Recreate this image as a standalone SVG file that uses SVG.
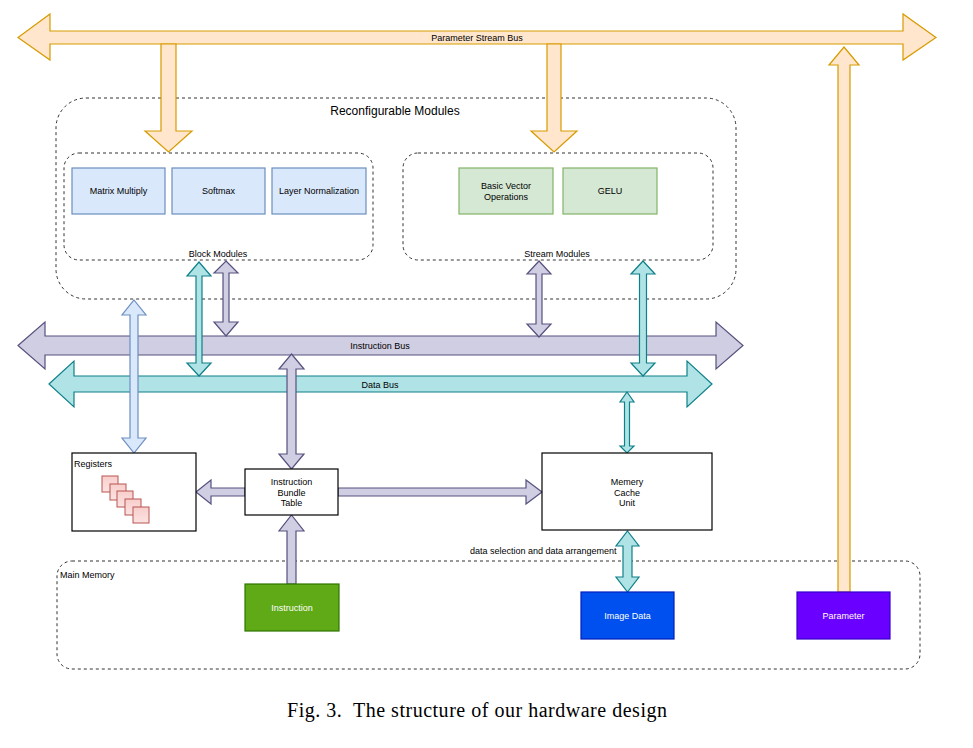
<svg xmlns="http://www.w3.org/2000/svg" width="973" height="748" viewBox="0 0 973 748">
<defs>
<style>
.t{font-family:"Liberation Sans",Arial,sans-serif;font-size:9px;fill:#000;}
.tw{font-family:"Liberation Sans",Arial,sans-serif;font-size:9px;fill:#fff;}
.dash{fill:none;stroke:#333;stroke-width:1;stroke-dasharray:3 3;}
.or{fill:#ffe6cc;stroke:#d79b00;stroke-width:1.2;}
.pu{fill:#d0cee2;stroke:#56517e;stroke-width:1.2;}
.te{fill:#b0e3e6;stroke:#0e8088;stroke-width:1.2;}
.bl{fill:#dae8fc;stroke:#6c8ebf;stroke-width:1.2;}
.gr{fill:#d5e8d4;stroke:#82b366;stroke-width:1.2;}
.box{fill:#fff;stroke:#000;stroke-width:1.2;}
.sq{fill:url(#pink);stroke:#b85450;stroke-width:1;}
</style>
<linearGradient id="pink" x1="0" y1="0" x2="0" y2="1">
<stop offset="0" stop-color="#f8cecc"/>
<stop offset="1" stop-color="#fbe3e2"/>
</linearGradient>
</defs>
<rect width="973" height="748" fill="#fff"/>

<!-- containers -->
<g id="reconfigurable-modules">
<rect class="dash" x="56" y="98" width="680" height="201" rx="30"/>
<text class="t" x="395" y="115" text-anchor="middle" style="font-size:12px">Reconfigurable Modules</text>
</g>
<g id="block-modules">
<rect class="dash" x="64" y="153" width="309" height="107" rx="15"/>
<text class="t" x="218" y="257" text-anchor="middle">Block Modules</text>
</g>
<g id="stream-modules">
<rect class="dash" x="403" y="153" width="310" height="107" rx="15"/>
<text class="t" x="557" y="257" text-anchor="middle">Stream Modules</text>
</g>
<g id="main-memory">
<rect class="dash" x="57" y="561" width="863" height="108" rx="15"/>
<text class="t" x="60" y="578">Main Memory</text>
</g>

<!-- modules -->
<g id="matrix-multiply">
<rect class="bl" x="72" y="168" width="93" height="46"/>
<text class="t" x="118.5" y="194" text-anchor="middle">Matrix Multiply</text>
</g>
<g id="softmax">
<rect class="bl" x="172" y="168" width="93" height="46"/>
<text class="t" x="218.5" y="194" text-anchor="middle">Softmax</text>
</g>
<g id="layer-normalization">
<rect class="bl" x="272" y="168" width="94" height="46"/>
<text class="t" x="319" y="194" text-anchor="middle">Layer Normalization</text>
</g>
<g id="basic-vector-operations">
<rect class="gr" x="459" y="168" width="94" height="46"/>
<text class="t" x="506" y="189" text-anchor="middle">Basic Vector</text>
<text class="t" x="506" y="200" text-anchor="middle">Operations</text>
</g>
<g id="gelu">
<rect class="gr" x="563" y="168" width="94" height="46"/>
<text class="t" x="610" y="194" text-anchor="middle">GELU</text>
</g>

<!-- connectors -->
<g id="connectors">
<path class="or" d="M18,37.5 L50,14 L50,31 L903,31 L903,14 L936,37.5 L903,60 L903,44 L50,44 L50,60 Z"/>
<path class="or" d="M161,44 L176,44 L176,131 L192,131 L168.5,152 L145,131 L161,131 Z"/>
<path class="or" d="M547,44 L561,44 L561,131 L577,131 L554,152 L531,131 L547,131 Z"/>
<path class="or" d="M844,47 L859,65 L850,65 L850,592 L838,592 L838,65 L829,65 Z"/>
<path class="pu" d="M18,345.5 L45,322 L45,336 L716,336 L716,322 L743,345.5 L716,369 L716,355 L45,355 L45,369 Z"/>
<path class="te" d="M49,384 L74,361 L74,376 L687,376 L687,361 L712,384 L687,407 L687,392 L74,392 L74,407 Z"/>
<!-- vertical double arrows -->
<path class="bl" d="M134,300 L146,315 L138,315 L138,438 L146,438 L134,453 L122,438 L130,438 L130,315 L122,315 Z"/>
<path class="te" d="M199,262 L211,276 L202,276 L202,363 L211,363 L199,376 L187,363 L196,363 L196,276 L187,276 Z"/>
<path class="pu" d="M226,261 L238,273 L229,273 L229,322 L238,322 L226,336 L214,322 L223,322 L223,273 L214,273 Z"/>
<path class="pu" d="M291.5,354 L304,369 L296,369 L296,454 L304,454 L291.5,469 L279,454 L287,454 L287,369 L279,369 Z"/>
<path class="pu" d="M539,261 L551,274 L542,274 L542,324 L551,324 L539,337 L527,324 L536,324 L536,274 L527,274 Z"/>
<path class="te" d="M643,261 L655,274 L646.5,274 L646.5,363 L655,363 L643,376 L631,363 L639.5,363 L639.5,274 L631,274 Z"/>
<path class="te" d="M627,392 L634,402 L629.5,402 L629.5,446 L634,446 L627,453 L620,446 L624.5,446 L624.5,402 L620,402 Z"/>
<path class="te" d="M627.5,531 L639,546 L632,546 L632,577 L639,577 L627.5,592 L616,577 L623,577 L623,546 L616,546 Z"/>
<!-- single arrows -->
<path class="pu" d="M196,492 L211,480 L211,488 L245,488 L245,496 L211,496 L211,504 Z"/>
<path class="pu" d="M338,488 L526,488 L526,480 L542,492 L526,504 L526,496 L338,496 Z"/>
<path class="pu" d="M291.5,515 L304,531 L296,531 L296,584 L287,584 L287,531 L279,531 Z"/>
<text class="t" x="477" y="41" text-anchor="middle">Parameter Stream Bus</text>
<text class="t" x="380" y="349" text-anchor="middle">Instruction Bus</text>
<text class="t" x="380" y="388" text-anchor="middle">Data Bus</text>
<text class="t" x="470" y="554">data selection and data arrangement</text>
</g>

<!-- lower nodes -->
<g id="registers">
<rect class="box" x="72" y="453" width="124" height="78"/>
<text class="t" x="74" y="467">Registers</text>
<rect class="sq" x="102" y="476" width="16" height="16"/>
<rect class="sq" x="110" y="484" width="16" height="16"/>
<rect class="sq" x="117" y="491" width="16" height="16"/>
<rect class="sq" x="125" y="499" width="16" height="16"/>
<rect class="sq" x="133" y="507" width="16" height="16"/>
</g>
<g id="instruction-bundle-table">
<rect class="box" x="245" y="469" width="93" height="46"/>
<text class="t" x="291.5" y="485" text-anchor="middle">Instruction</text>
<text class="t" x="291.5" y="496" text-anchor="middle">Bundle</text>
<text class="t" x="291.5" y="506" text-anchor="middle">Table</text>
</g>
<g id="memory-cache-unit">
<rect class="box" x="542" y="453" width="170" height="77"/>
<text class="t" x="627" y="485" text-anchor="middle">Memery</text>
<text class="t" x="627" y="496" text-anchor="middle">Cache</text>
<text class="t" x="627" y="506" text-anchor="middle">Unit</text>
</g>
<g id="instruction">
<rect x="245" y="584" width="94" height="47" fill="#60a917" stroke="#2d7600" stroke-width="1.2"/>
<text class="tw" x="292" y="611" text-anchor="middle">Instruction</text>
</g>
<g id="image-data">
<rect x="581" y="592" width="93" height="47" fill="#0050ef" stroke="#001dbc" stroke-width="1.2"/>
<text class="tw" x="627.5" y="619" text-anchor="middle">Image Data</text>
</g>
<g id="parameter">
<rect x="797" y="592" width="93" height="47" fill="#6a00ff" stroke="#3700cc" stroke-width="1.2"/>
<text class="tw" x="843.5" y="619" text-anchor="middle">Parameter</text>
</g>

<text x="287" y="717" style="font-family:'Liberation Serif','Times New Roman',serif;font-size:20px;fill:#000" textLength="380" xml:space="preserve">Fig. 3.  The structure of our hardware design</text>
</svg>
